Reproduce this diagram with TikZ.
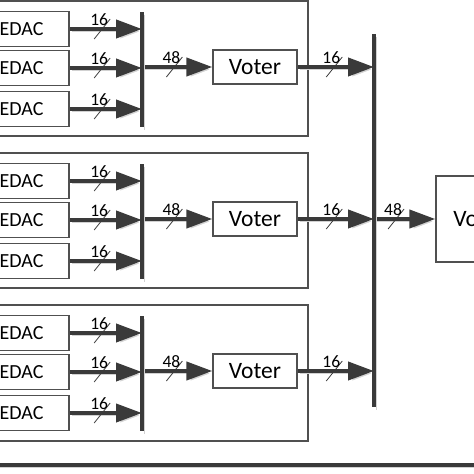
\documentclass[tikz,border=0pt]{standalone}
\usepackage{fontspec}
\setmainfont{Carlito}
\usetikzlibrary{arrows.meta,positioning,calc}
\definecolor{linegray}{HTML}{3A3A3A}
\definecolor{boxgray}{HTML}{505050}
\tikzset{
	edac/.style={draw=boxgray,line width=1.2pt,minimum width=95pt,minimum height=35pt,inner sep=0pt,font=\fontsize{20}{20}\selectfont},
	voter/.style={draw=boxgray,line width=1.2pt,minimum width=84pt,minimum height=34pt,inner sep=0pt,font=\fontsize{23.5}{24}\selectfont},
	group/.style={draw=boxgray,line width=1.2pt},
	shade/.style={preaction={draw=black!18,transform canvas={shift={(2.5,2.5)}}}},
	busbar/.style={draw=linegray,line width=4.5pt,shade},
	arr/.style={draw=linegray,line width=4pt,-{Triangle[length=26pt,width=18pt]},shade},
	wmark/.pic={
		\draw[line width=.8pt,-,linegray] (-8,10) -- (8,-10);
		\node[font=\fontsize{17.5}{18}\selectfont,inner sep=0pt,black] at (-3,-9.5) {#1};
	}
}

\begin{document}
\begin{tikzpicture}[x=1pt,y=-1pt]
	\clip (0,0) rectangle (474,474);
	\useasboundingbox (0,0) rectangle (474,474);
	% group frames
	\draw[group] (-20,1) rectangle (308,136);
	\draw[group] (-20,153) rectangle (308,288);
	\draw[group] (-20,305) rectangle (308,441);
	\draw[busbar] (-5,465) -- (480,465);
	% group 1
	\node[edac] (e11) at (21.5,29) {EDAC};
	\node[edac] (e12) at (21.5,68) {EDAC};
	\node[edac] (e13) at (21.5,109) {EDAC};
	\coordinate (b1t) at (142,12);
	\coordinate (b1b) at (142,127);
	\node[voter] (v1) at (255,67) {Voter};
	\draw[arr] (e11.east) -- (e11.east -| b1t) pic[pos=.45]{wmark=16};
	\draw[arr] (e12.east) -- (e12.east -| b1t) pic[pos=.45]{wmark=16};
	\draw[arr] (e13.east) -- (e13.east -| b1t) pic[pos=.45]{wmark=16};
	\draw[arr] (v1.west -| b1t) -- (v1.west) pic[pos=.46]{wmark=48};
	\draw[busbar] (b1t) -- (b1b);
	% group 2
	\node[edac] (e21) at (21.5,181) {EDAC};
	\node[edac] (e22) at (21.5,220) {EDAC};
	\node[edac] (e23) at (21.5,261) {EDAC};
	\coordinate (b2t) at (142,164);
	\coordinate (b2b) at (142,279);
	\node[voter] (v2) at (255,219) {Voter};
	\draw[arr] (e21.east) -- (e21.east -| b2t) pic[pos=.45]{wmark=16};
	\draw[arr] (e22.east) -- (e22.east -| b2t) pic[pos=.45]{wmark=16};
	\draw[arr] (e23.east) -- (e23.east -| b2t) pic[pos=.45]{wmark=16};
	\draw[arr] (v2.west -| b2t) -- (v2.west) pic[pos=.46]{wmark=48};
	\draw[busbar] (b2t) -- (b2b);
	% group 3
	\node[edac] (e31) at (21.5,333) {EDAC};
	\node[edac] (e32) at (21.5,372) {EDAC};
	\node[edac] (e33) at (21.5,413) {EDAC};
	\coordinate (b3t) at (142,316);
	\coordinate (b3b) at (142,431);
	\node[voter] (v3) at (255,371) {Voter};
	\draw[arr] (e31.east) -- (e31.east -| b3t) pic[pos=.45]{wmark=16};
	\draw[arr] (e32.east) -- (e32.east -| b3t) pic[pos=.45]{wmark=16};
	\draw[arr] (e33.east) -- (e33.east -| b3t) pic[pos=.45]{wmark=16};
	\draw[arr] (v3.west -| b3t) -- (v3.west) pic[pos=.46]{wmark=48};
	\draw[busbar] (b3t) -- (b3b);
	% final vote
	\coordinate (bt) at (374,34);
	\coordinate (bb) at (374,407);
	\node[voter,minimum width=87pt,minimum height=86pt] (v) at (479.5,219) {Voter};
	\draw[arr] (v1.east) -- (v1.east -| bt) pic[pos=.48]{wmark=16};
	\draw[arr] (v2.east) -- (v2.east -| bt) pic[pos=.48]{wmark=16};
	\draw[arr] (v3.east) -- (v3.east -| bt) pic[pos=.48]{wmark=16};
	\draw[arr] (v.west -| bt) -- (v.west) pic[pos=.36]{wmark=48};
	\draw[busbar] (bt) -- (bb);
\end{tikzpicture}
\end{document}
